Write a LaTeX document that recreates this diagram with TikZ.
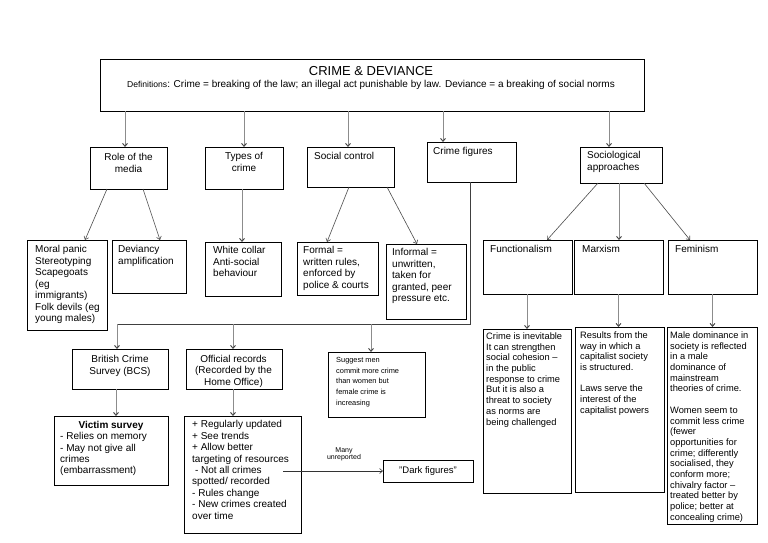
\documentclass[tikz,border=0pt]{standalone}
\usepackage{fontspec}
\setmainfont{Liberation Sans}
\usetikzlibrary{arrows.meta}
\tikzset{
  box/.style={draw=black, line width=0.8pt, anchor=north west, inner sep=0pt, outer sep=0pt},
  txt/.style={anchor=north west, inner sep=0pt, align=left, font=\fontsize{10}{11.5}\selectfont},
  ctxt/.style={anchor=north, inner sep=0pt, align=center, font=\fontsize{10}{11.5}\selectfont},
  stxt/.style={txt, font=\fontsize{9.3}{10.7}\selectfont},
  arr/.style={draw=black!45, line width=0.9pt, -{Straight Barb[length=3pt,width=5pt,color=black!75]}},
  darr/.style={draw=black!70, line width=0.6pt, -{Straight Barb[length=3pt,width=5pt]}},
  bracket/.style={draw=black!75, line width=0.9pt},
}
\newcommand\bx[5]{\node[box, minimum width={(#4)-(#2)}, minimum height={(#5)-(#3)}] (#1) at (#2,#3) {};}
\begin{document}
\begin{tikzpicture}[x=1pt,y=-1pt]
\fill[white] (0,0) rectangle (768,543);
\useasboundingbox (0,0) rectangle (768,543);
% boxes
\bx{top}{100}{59}{644}{111}
\bx{media}{90}{147}{167}{189}
\bx{types}{205}{147}{283}{189}
\bx{social}{307}{147}{394}{187}
\bx{figures}{427}{142}{516}{182}
\bx{soc}{580}{147}{662}{183}
\bx{moral}{27}{240}{107}{330}
\bx{devamp}{112}{240}{186}{293}
\bx{white}{205}{242}{281}{296}
\bx{formal}{297}{242}{378}{295}
\bx{informal}{386}{244}{466}{319}
\bx{func}{483}{240}{572}{294}
\bx{marx}{574}{240}{663}{294}
\bx{fem}{668}{240}{757}{294}
\bx{functext}{483}{329}{571}{493}
\bx{marxtext}{575}{327}{664}{492}
\bx{femtext}{667}{327}{757}{524}
\bx{bcs}{72}{349}{168}{389}
\bx{official}{186}{349}{282}{389}
\bx{suggest}{328}{352}{425}{417}
\bx{victim}{54}{416}{168}{485}
\bx{list}{184}{416}{301}{533}
\bx{dark}{383}{460}{473}{482}
% texts
\node[font=\fontsize{13}{15}\selectfont, anchor=base, inner sep=0pt] (title) at (371,75.7) {CRIME \& DEVIANCE};
\node[font=\fontsize{10}{11}\selectfont, anchor=base, inner sep=0pt] (defs) at (371,87.4) {{\fontsize{8.6}{9}\selectfont Definitions}: Crime = breaking of the law; an illegal act punishable by law. Deviance = a breaking of social norms};
\node[ctxt] (media-t) at (128.5,153.4) {Role of the\\media};
\node[ctxt] (types-t) at (244,152.4) {Types of\\crime};
\node[txt] (social-t) at (314,152.4) {Social control};
\node[txt] (figures-t) at (433,147.4) {Crime figures};
\node[txt] (soc-t) at (587,151.4) {Sociological\\approaches};
\node[txt] (moral-t) at (35,245.4) {Moral panic\\Stereotyping\\Scapegoats\\(eg\\immigrants)\\Folk devils (eg\\young males)};
\node[txt] (devamp-t) at (118,245.4) {Deviancy\\amplification};
\node[txt] (white-t) at (213,246.4) {White collar\\Anti-social\\behaviour};
\node[txt] (formal-t) at (303,246.4) {Formal =\\written rules,\\enforced by\\police \& courts};
\node[txt] (informal-t) at (392,248.4) {Informal =\\unwritten,\\taken for\\granted, peer\\pressure etc.};
\node[txt] (func-t) at (490,245.4) {Functionalism};
\node[txt] (marx-t) at (582,245.4) {Marxism};
\node[txt] (fem-t) at (675,245.4) {Feminism};
\node[stxt] (functext-t) at (486,332.5) {Crime is inevitable\\It can strengthen\\social cohesion –\\in the public\\response to crime\\But it is also a\\threat to society\\as norms are\\being challenged};
\node[stxt] (marxtext-t) at (580,331.5) {Results from the\\way in which a\\capitalist society\\is structured.\\[10.7pt]Laws serve the\\interest of the\\capitalist powers};
\node[stxt] (femtext-t) at (670,331.5) {Male dominance in\\society is reflected\\in a male\\dominance of\\mainstream\\theories of crime.\\[10.7pt]Women seem to\\commit less crime\\(fewer\\opportunities for\\crime; differently\\socialised, they\\conform more;\\chivalry factor –\\treated better by\\police; better at\\concealing crime)};
\node[ctxt, font=\fontsize{10}{12.4}\selectfont] (bcs-t) at (120,354.7) {British Crime\\Survey (BCS)};
\node[ctxt] (official-t) at (233.5,354.7) {Official records\\(Recorded by the\\Home Office)};
\node[txt, font=\fontsize{7.4}{10.6}\selectfont] (suggest-t) at (336,357.4) {Suggest men\\commit more crime\\than women but\\female crime is\\increasing};
\node[ctxt, font=\bfseries\fontsize{10}{11.5}\selectfont] (victim-h) at (111,421.4) {Victim survey};
\node[txt, font=\fontsize{10}{11.3}\selectfont] (victim-t) at (60,432.4) {- Relies on memory\\- May not give all\\crimes\\(embarrassment)};
\node[txt, font=\fontsize{10}{11.4}\selectfont] (list-t) at (192,420.4) {+ Regularly updated\\+ See trends\\+ Allow better\\targeting of resources\\\hspace{2.8pt}- Not all crimes\\spotted/ recorded\\- Rules change\\- New crimes created\\over time};
\node[anchor=center, inner sep=0pt, font=\fontsize{9.5}{11}\selectfont] (dark-t) at (428,471) {"Dark figures"};
\node[anchor=center, inner sep=0pt, align=center, font=\fontsize{7}{7.5}\selectfont] (many) at (344,454.5) {Many\\unreported};
% connectors
\draw[arr] ([xshift=-3.5pt]media.north |- top.south) -- ([xshift=-3.5pt]media.north);
\draw[arr] (types.north |- top.south) -- (types.north);
\draw[arr] ([xshift=-2.5pt]social.north |- top.south) -- ([xshift=-2.5pt]social.north);
\draw[arr] ([xshift=-28.5pt]figures.north |- top.south) -- ([xshift=-28.5pt]figures.north);
\draw[arr] ([xshift=-12pt]soc.north |- top.south) -- ([xshift=-12pt]soc.north);
\draw[darr] ([xshift=17pt]media.south west) -- ([xshift=18pt]moral.north);
\draw[darr] ([xshift=-24pt]media.south east) -- ([xshift=11pt]devamp.north);
\draw[arr] ([xshift=-2pt]types.south) -- ([xshift=-2pt]types.south |- white.north);
\draw[darr] ([xshift=-1.5pt]social.south) -- ([xshift=-10.5pt]formal.north);
\draw[darr] ([xshift=-7pt]social.south east) -- ([xshift=-9pt]informal.north);
\draw[darr] ([xshift=18pt]soc.south west) -- ([xshift=19.5pt]func.north);
\draw[arr] ([xshift=-2pt]soc.south) -- ([xshift=-2pt]soc.south |- marx.north);
\draw[darr] ([xshift=-18pt]soc.south east) -- ([xshift=-22.5pt]fem.north);
\draw[arr] (functext.north |- func.south) -- (functext.north);
\draw[arr] (marx.south) -- (marx.south |- marxtext.north);
\draw[arr] (fem.south) -- (fem.south |- femtext.north);
\coordinate (junc) at (117,324);
\draw[bracket] ([xshift=-1.5pt]figures.south) |- (junc);
\draw[arr] (junc) -- (junc |- bcs.north);
\draw[arr] ([xshift=-1pt]official.north |- junc) -- ([xshift=-1pt]official.north);
\draw[arr] ([xshift=-5.5pt]suggest.north |- junc) -- ([xshift=-5.5pt]suggest.north);
\draw[arr] ([xshift=-4pt]bcs.south) -- ([xshift=-4pt]bcs.south |- victim.north);
\draw[arr] ([xshift=-1pt]official.south) -- ([xshift=-1pt]official.south |- list.north);
\coordinate (dstart) at (283,471);
\draw[darr, draw=black!80] (dstart) -- (dark.west);
\end{tikzpicture}
\end{document}
